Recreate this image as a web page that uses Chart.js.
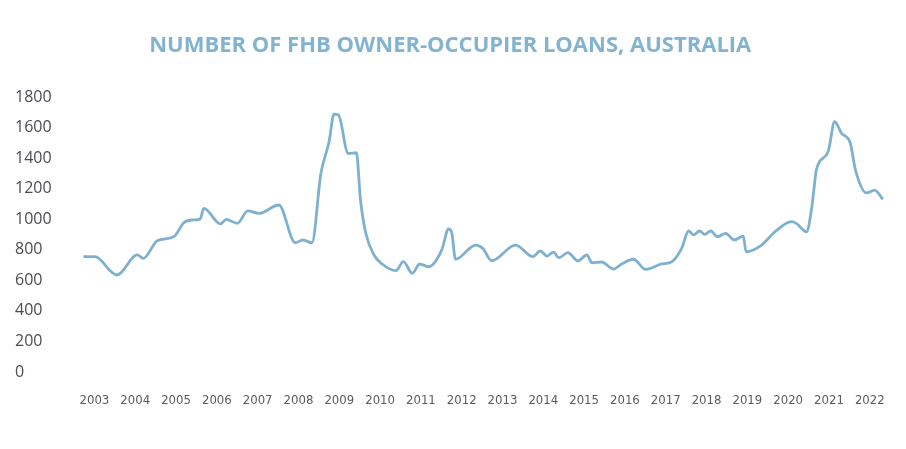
<!DOCTYPE html>
<html>
<head>
<meta charset="utf-8">
<script src="https://cdn.jsdelivr.net/npm/chart.js@4.4.1/dist/chart.umd.min.js"></script>
<style>
  html, body { margin: 0; padding: 0; background: #ffffff; }
  #wrap { width: 906px; height: 449px; position: relative; }
</style>
</head>
<body>
<div id="wrap"><canvas id="c"></canvas></div>
<script>
const dates = [
  2002.73, 2003.01, 2003.55, 2004.05, 2004.20, 2004.54, 2004.95, 2005.19, 2005.40, 2005.59,
  2005.68, 2006.09, 2006.23, 2006.50, 2006.76, 2007.03, 2007.52, 2007.92, 2008.11, 2008.33,
  2008.55, 2008.75, 2008.87, 2008.98, 2009.22, 2009.42, 2009.52, 2009.65, 2009.85, 2010.05,
  2010.39, 2010.57, 2010.79, 2010.97, 2011.19, 2011.51, 2011.68, 2011.75, 2011.85, 2012.34,
  2012.52, 2012.73, 2013.32, 2013.74, 2013.93, 2014.09, 2014.25, 2014.38, 2014.60, 2014.85,
  2015.07, 2015.19, 2015.43, 2015.72, 2015.92, 2016.21, 2016.51, 2016.90, 2017.15, 2017.39,
  2017.56, 2017.68, 2017.83, 2017.96, 2018.10, 2018.27, 2018.47, 2018.68, 2018.90, 2018.97,
  2019.35, 2019.68, 2020.08, 2020.20, 2020.45, 2020.57, 2020.63, 2020.69, 2020.98, 2021.14,
  2021.31, 2021.52, 2021.65, 2021.92, 2022.12, 2022.32
];
// Number of FHB owner-occupier loans at those points
const loans = [
  755, 755, 635, 766, 744, 859, 886, 977, 995, 1001,
  1071, 969, 999, 973, 1054, 1038, 1093, 846, 864, 846,
  1300, 1507, 1688, 1682, 1431, 1435, 1126, 908, 766, 707,
  663, 722, 646, 707, 689, 798, 936, 918, 738, 831,
  809, 728, 831, 755, 792, 759, 785, 748, 781, 728,
  766, 715, 720, 674, 707, 738, 672, 707, 722, 809,
  923, 897, 923, 901, 923, 886, 908, 864, 890, 787,
  831, 918, 984, 973, 918, 1060, 1191, 1322, 1442, 1638,
  1562, 1501, 1322, 1173, 1191, 1130
];
// Year tick labels on the x axis
const yearTicks = [2003, 2004, 2005, 2006, 2007, 2008, 2009, 2010, 2011, 2012,
                   2013, 2014, 2015, 2016, 2017, 2018, 2019, 2020, 2021, 2022];
const titleText = 'NUMBER OF FHB OWNER-OCCUPIER LOANS, AUSTRALIA';

const points = dates.map((d, i) => ({ x: d, y: loans[i] }));

new Chart(document.getElementById('c'), {
  type: 'line',
  data: {
    datasets: [{
      data: points,
      borderColor: '#7db1cf',
      borderWidth: 2.8,
      pointRadius: 0,
      fill: false,
      cubicInterpolationMode: 'monotone',
      clip: 6
    }]
  },
  options: {
    responsive: true,
    maintainAspectRatio: false,
    animation: false,
    layout: { padding: { left: 15, right: 20.5, top: 0, bottom: 0 } },
    plugins: {
      legend: { display: false },
      tooltip: { enabled: false },
      title: {
        display: true,
        text: titleText,
        color: '#82b4d1',
        font: { family: 'Open Sans', size: 22, weight: 'bold', lineHeight: 1.2 },
        padding: { top: 33, bottom: 37.6 }
      }
    },
    scales: {
      x: {
        type: 'linear',
        min: 2002.72,
        max: 2022.35,
        grid: { display: false, drawTicks: false },
        border: { display: false },
        afterBuildTicks: (scale) => { scale.ticks = yearTicks.map(v => ({ value: v })); },
        afterFit: (scale) => { scale.height = 77; },
        ticks: {
          autoSkip: false,
          maxRotation: 0,
          padding: 21,
          color: '#5a5a64',
          font: { family: "'Liberation Sans Narrow', 'DejaVu Sans Condensed', sans-serif", size: 13 },
          callback: (v) => String(v)
        }
      },
      y: {
        min: 0,
        max: 1800,
        grid: { display: false, drawTicks: false },
        border: { display: false },
        afterFit: (scale) => { scale.width = 68; },
        ticks: {
          stepSize: 200,
          crossAlign: 'far',
          color: '#4b4b55',
          font: { family: 'Open Sans', size: 16 },
          callback: (v) => String(v)
        }
      }
    }
  }
});
</script>
</body>
</html>
